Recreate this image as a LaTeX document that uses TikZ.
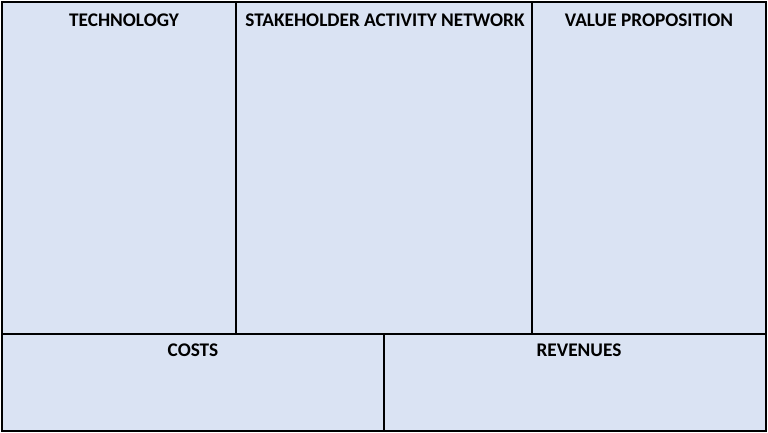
\documentclass[tikz,border=0pt]{standalone}
\usepackage{fontspec}
\setmainfont{Carlito}
\definecolor{cellfill}{HTML}{DAE3F3}
\begin{document}
\begin{tikzpicture}[x=1pt,y=-1pt,
  cell/.style={draw=black,fill=cellfill,line width=2pt},
  head/.style={font=\fontsize{19.3}{21}\selectfont\bfseries,anchor=base,inner sep=0pt}]
\useasboundingbox (0,0) rectangle (768,433);
\draw[cell] (2,2) rectangle (236,334);
\draw[cell] (236,2) rectangle (532,334);
\draw[cell] (532,2) rectangle (766,334);
\draw[cell] (2,334) rectangle (384,431);
\draw[cell] (384,334) rectangle (766,431);
\node[head] (tech) at (124,27) {TECHNOLOGY};
\node[head] (san) at (385,27) {STAKEHOLDER ACTIVITY NETWORK};
\node[head] (vp) at (649,27) {VALUE PROPOSITION};
\node[head] (costs) at (193,356) {COSTS};
\node[head] (rev) at (579,356) {REVENUES};
\end{tikzpicture}
\end{document}
